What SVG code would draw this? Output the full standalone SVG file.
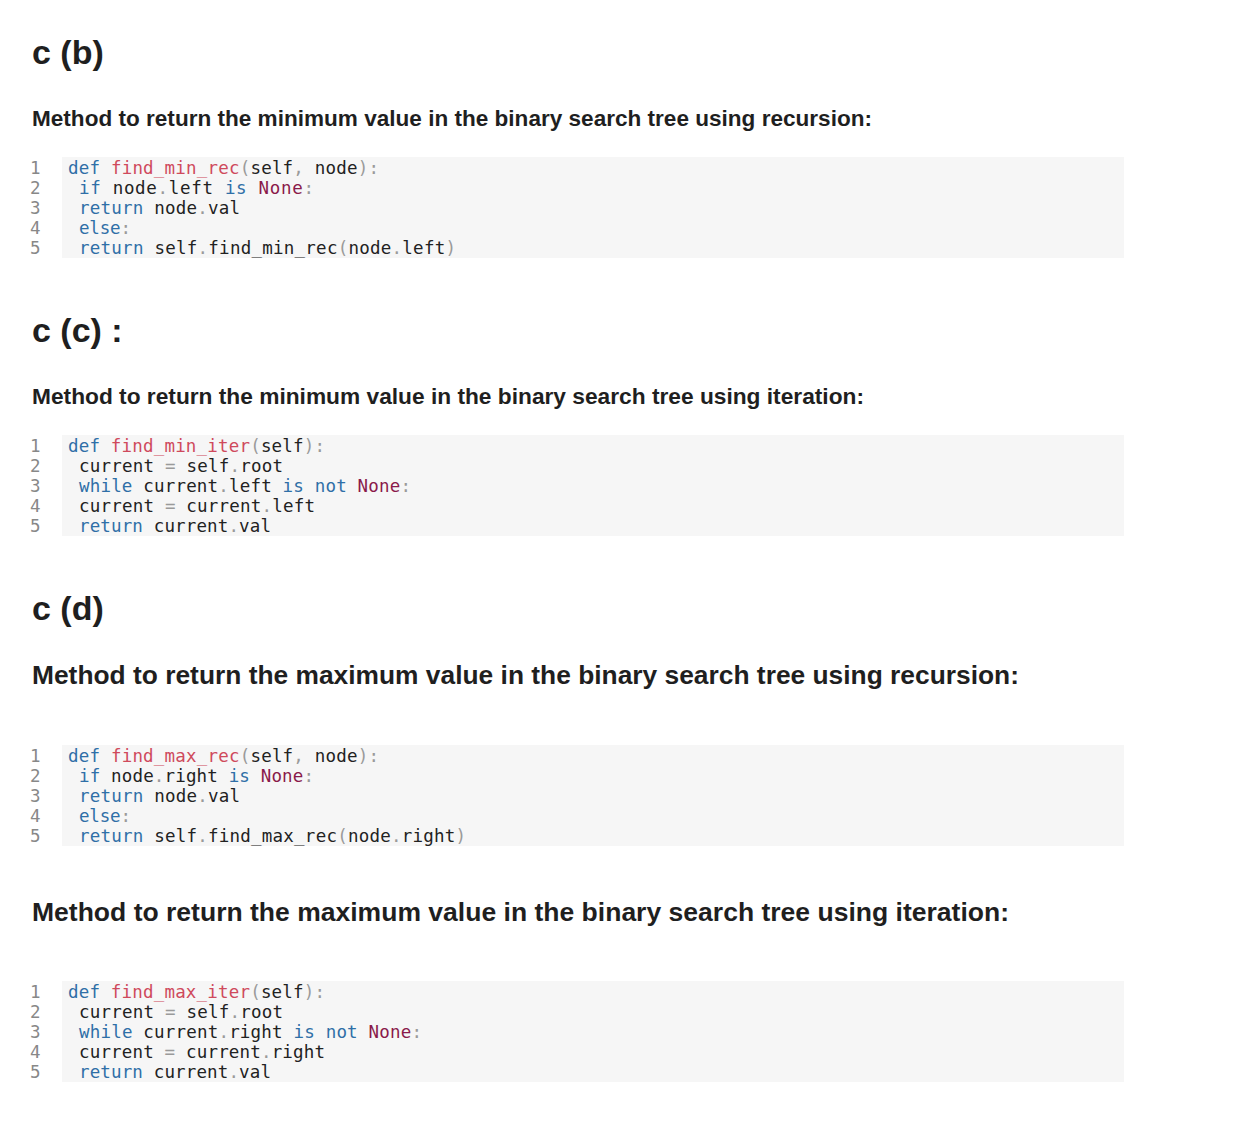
<svg xmlns="http://www.w3.org/2000/svg" width="1236" height="1124" viewBox="0 0 1236 1124">
<style>
.t{font-family:"Liberation Sans",Arial,sans-serif;font-weight:bold;fill:#1f1f1f}
.h{font-size:34px}
.m{font-size:22px}
.l{font-size:25px}
.c{font-family:"DejaVu Sans Mono","Liberation Mono",monospace;font-size:17.5px;fill:#222;white-space:pre}
.n{font-family:"DejaVu Sans Mono","Liberation Mono",monospace;font-size:17.5px;fill:#888}
.k{fill:#2f6fa7}.f{fill:#cf4a5c}.o{fill:#8a1a4a}.p{fill:#9a9a9a}
.bg{fill:#f6f6f6}
</style>
<rect width="1236" height="1124" fill="#fff"/>
<text class="t h" x="32" y="64">c (b)</text>
<text class="t m" x="32" y="126" textLength="840" lengthAdjust="spacingAndGlyphs">Method to return the minimum value in the binary search tree using recursion:</text>
<g id="code1">
<rect class="bg" x="62" y="157" width="1062" height="101"/>
<text class="n" x="30" y="174">1</text><text class="n" x="30" y="194">2</text><text class="n" x="30" y="214">3</text><text class="n" x="30" y="234">4</text><text class="n" x="30" y="254">5</text>
<text class="c" x="68" y="174" textLength="311"><tspan class="k">def</tspan> <tspan class="f">find_min_rec</tspan><tspan class="p">(</tspan>self<tspan class="p">,</tspan> node<tspan class="p">):</tspan></text>
<text class="c" x="79" y="194" textLength="235"><tspan class="k">if</tspan> node<tspan class="p">.</tspan>left <tspan class="k">is</tspan> <tspan class="o">None</tspan><tspan class="p">:</tspan></text>
<text class="c" x="79" y="214" textLength="161"><tspan class="k">return</tspan> node<tspan class="p">.</tspan>val</text>
<text class="c" x="79" y="234" textLength="52"><tspan class="k">else</tspan><tspan class="p">:</tspan></text>
<text class="c" x="79" y="254" textLength="377"><tspan class="k">return</tspan> self<tspan class="p">.</tspan>find_min_rec<tspan class="p">(</tspan>node<tspan class="p">.</tspan>left<tspan class="p">)</tspan></text>
</g>
<text class="t h" x="32" y="342">c (c) :</text>
<text class="t m" x="32" y="404" textLength="832" lengthAdjust="spacingAndGlyphs">Method to return the minimum value in the binary search tree using iteration:</text>
<g id="code2">
<rect class="bg" x="62" y="435" width="1062" height="101"/>
<text class="n" x="30" y="452">1</text><text class="n" x="30" y="472">2</text><text class="n" x="30" y="492">3</text><text class="n" x="30" y="512">4</text><text class="n" x="30" y="532">5</text>
<text class="c" x="68" y="452" textLength="257"><tspan class="k">def</tspan> <tspan class="f">find_min_iter</tspan><tspan class="p">(</tspan>self<tspan class="p">):</tspan></text>
<text class="c" x="79" y="472" textLength="204">current <tspan class="p">=</tspan> self<tspan class="p">.</tspan>root</text>
<text class="c" x="79" y="492" textLength="332"><tspan class="k">while</tspan> current<tspan class="p">.</tspan>left <tspan class="k">is</tspan> <tspan class="k">not</tspan> <tspan class="o">None</tspan><tspan class="p">:</tspan></text>
<text class="c" x="79" y="512" textLength="236">current <tspan class="p">=</tspan> current<tspan class="p">.</tspan>left</text>
<text class="c" x="79" y="532" textLength="192"><tspan class="k">return</tspan> current<tspan class="p">.</tspan>val</text>
</g>
<text class="t h" x="32" y="620">c (d)</text>
<text class="t l" x="32" y="684" textLength="987" lengthAdjust="spacingAndGlyphs">Method to return the maximum value in the binary search tree using recursion:</text>
<g id="code3">
<rect class="bg" x="62" y="745" width="1062" height="101"/>
<text class="n" x="30" y="762">1</text><text class="n" x="30" y="782">2</text><text class="n" x="30" y="802">3</text><text class="n" x="30" y="822">4</text><text class="n" x="30" y="842">5</text>
<text class="c" x="68" y="762" textLength="311"><tspan class="k">def</tspan> <tspan class="f">find_max_rec</tspan><tspan class="p">(</tspan>self<tspan class="p">,</tspan> node<tspan class="p">):</tspan></text>
<text class="c" x="79" y="782" textLength="235"><tspan class="k">if</tspan> node<tspan class="p">.</tspan>right <tspan class="k">is</tspan> <tspan class="o">None</tspan><tspan class="p">:</tspan></text>
<text class="c" x="79" y="802" textLength="161"><tspan class="k">return</tspan> node<tspan class="p">.</tspan>val</text>
<text class="c" x="79" y="822" textLength="52"><tspan class="k">else</tspan><tspan class="p">:</tspan></text>
<text class="c" x="79" y="842" textLength="387"><tspan class="k">return</tspan> self<tspan class="p">.</tspan>find_max_rec<tspan class="p">(</tspan>node<tspan class="p">.</tspan>right<tspan class="p">)</tspan></text>
</g>
<text class="t l" x="32" y="921" textLength="977" lengthAdjust="spacingAndGlyphs">Method to return the maximum value in the binary search tree using iteration:</text>
<g id="code4">
<rect class="bg" x="62" y="981" width="1062" height="101"/>
<text class="n" x="30" y="998">1</text><text class="n" x="30" y="1018">2</text><text class="n" x="30" y="1038">3</text><text class="n" x="30" y="1058">4</text><text class="n" x="30" y="1078">5</text>
<text class="c" x="68" y="998" textLength="257"><tspan class="k">def</tspan> <tspan class="f">find_max_iter</tspan><tspan class="p">(</tspan>self<tspan class="p">):</tspan></text>
<text class="c" x="79" y="1018" textLength="204">current <tspan class="p">=</tspan> self<tspan class="p">.</tspan>root</text>
<text class="c" x="79" y="1038" textLength="343"><tspan class="k">while</tspan> current<tspan class="p">.</tspan>right <tspan class="k">is</tspan> <tspan class="k">not</tspan> <tspan class="o">None</tspan><tspan class="p">:</tspan></text>
<text class="c" x="79" y="1058" textLength="246">current <tspan class="p">=</tspan> current<tspan class="p">.</tspan>right</text>
<text class="c" x="79" y="1078" textLength="192"><tspan class="k">return</tspan> current<tspan class="p">.</tspan>val</text>
</g>
</svg>
